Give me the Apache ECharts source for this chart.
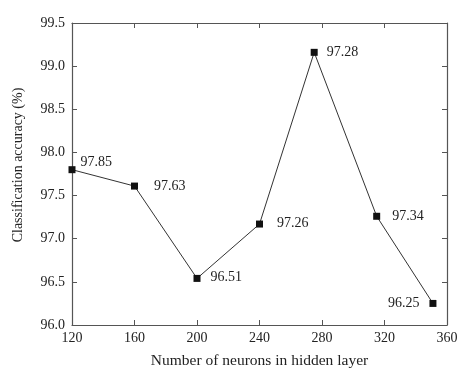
<!DOCTYPE html>
<html>
<head>
<meta charset="utf-8">
<script src="https://cdn.jsdelivr.net/npm/echarts@6/dist/echarts.min.js"></script>
<style>html,body{margin:0;padding:0;background:#fff;}#c{width:474px;height:386px;}</style>
</head>
<body>
<div id="c"></div>
<script>
var neurons = [120, 160, 200, 240, 275, 315, 351];
var accuracy = [97.80, 97.61, 96.54, 97.17, 99.16, 97.26, 96.25];
var pointLabels = ["97.85", "97.63", "96.51", "97.26", "97.28", "97.34", "96.25"];
var xTicks = [120, 160, 200, 240, 280, 320, 360];
var yTicks = [96.0, 96.5, 97.0, 97.5, 98.0, 98.5, 99.0, 99.5];

var labelOffsets = [[0, -7], [11, 0], [5, -1], [9, -1], [4, 0], [7, 0], [-5, 0]];
var labelPos = ['right', 'right', 'right', 'right', 'right', 'right', 'left'];

var font = 'Liberation Serif';
var axisCol = '#555';
var txt = '#222';

var data = neurons.map(function (n, i) {
  return {
    value: [n, accuracy[i]],
    label: {
      show: true,
      formatter: pointLabels[i],
      position: labelPos[i],
      offset: labelOffsets[i],
      fontFamily: font, fontSize: 14, color: txt
    }
  };
});

function xAx(pos, show) {
  return {
    type: 'value', position: pos, min: xTicks[0], max: xTicks[xTicks.length - 1], interval: 40,
    name: show ? 'Number of neurons in hidden layer' : '',
    nameLocation: 'middle', nameGap: 28,
    nameTextStyle: { fontFamily: font, fontSize: 15.5, color: txt },
    axisLine: { show: true, onZero: false, lineStyle: { color: axisCol, width: 1.2 } },
    axisTick: { show: true, inside: true, length: 5, lineStyle: { color: axisCol } },
    axisLabel: { show: show, fontFamily: font, fontSize: 14, color: txt, margin: 6 },
    splitLine: { show: false }
  };
}
function yAx(pos, show) {
  return {
    type: 'value', position: pos, min: yTicks[0], max: yTicks[yTicks.length - 1], interval: 0.5,
    name: show ? 'Classification accuracy (%)' : '',
    nameLocation: 'middle', nameGap: 47,
    nameTextStyle: { fontFamily: font, fontSize: 14, color: txt, padding: [0, 0, 0, 18] },
    axisLine: { show: true, onZero: false, lineStyle: { color: axisCol, width: 1.2 } },
    axisTick: { show: true, inside: true, length: 5, lineStyle: { color: axisCol } },
    axisLabel: { show: show, fontFamily: font, fontSize: 14, color: txt, margin: 7,
      formatter: function (v) { return v.toFixed(1); } },
    splitLine: { show: false }
  };
}

var chart = echarts.init(document.getElementById('c'), null, { renderer: 'canvas' });
chart.setOption({
  animation: false,
  backgroundColor: '#fff',
  grid: { left: 72, right: 27, top: 23, bottom: 61 },
  xAxis: [xAx('bottom', true), xAx('top', false)],
  yAxis: [yAx('left', true), yAx('right', false)],
  series: [{
    type: 'line',
    data: data,
    symbol: 'rect',
    symbolSize: 7,
    itemStyle: { color: '#111' },
    lineStyle: { color: '#333', width: 1 }
  }]
});
</script>
</body>
</html>
